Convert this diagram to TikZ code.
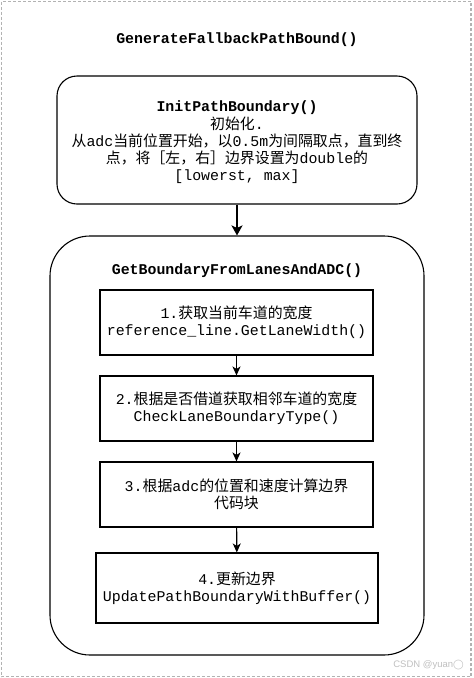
\documentclass[tikz,border=0pt]{standalone}
\usepackage{fontspec}
\setmainfont{Liberation Sans}
\setmonofont{Liberation Mono}
\newfontfamily\zh{Noto Sans CJK SC}
\newfontfamily\wmfont{DejaVu Sans}
\usetikzlibrary{arrows.meta}
\begin{document}
\begin{tikzpicture}[x=1pt,y=-1pt,
  txt/.style={font=\fontsize{14.9}{17}\selectfont\ttfamily, align=center, inner sep=0pt},
  roundbox/.style={draw=black, line width=1.1pt, txt},
  stepbox/.style={draw=black, line width=1.1pt, txt, minimum width=273pt, minimum height=65pt},
  thinarrow/.style={draw=black, line width=1.1pt, -{Stealth[length=9pt,width=8pt,inset=2.5pt]}},
  thickarrow/.style={draw=black, line width=2pt, -{Stealth[length=10pt,width=11pt,inset=2.5pt]}}
]
\useasboundingbox (0,0) rectangle (474,678);
\draw[gray!60, line width=1.6pt, dash pattern=on 3pt off 2pt] (1.5,1.5) rectangle (471,676.5);

\node[txt, font=\fontsize{14.9}{17}\selectfont\ttfamily\bfseries] (title) at (237,40) {GenerateFallbackPathBound()};

\node[roundbox, rounded corners=20pt, minimum width=360pt, minimum height=128pt] (init) at (237,140) {};
\node[txt] (inittext) at (237,142.5)
{\textbf{InitPathBoundary()}\\[1pt]
{\zh 初始化}.\\
{\zh 从}adc{\zh 当前位置开始，以}0.5m{\zh 为间隔取点，直到终}\\
{\zh 点，将［左，右］边界设置为}double{\zh 的}\\
\relax{[}lowerst, max{]}};

\node[roundbox, rounded corners=40pt, minimum width=374pt, minimum height=419pt] (outer) at (237,445.5) {};

\node[txt, font=\fontsize{14.9}{17}\selectfont\ttfamily\bfseries] (gtitle) at (237,271) {GetBoundaryFromLanesAndADC()};

\node[stepbox] (s1) at (236.5,322.5) {1.{\zh 获取当前车道的宽度}\\reference\_line.GetLaneWidth()};
\node[stepbox] (s2) at (236.5,408.5) {2.{\zh 根据是否借道获取相邻车道的宽度}\\CheckLaneBoundaryType()};
\node[stepbox] (s3) at (236.5,494.5) {3.{\zh 根据}adc{\zh 的位置和速度计算边界}\\{\zh 代码块}};
\node[stepbox, minimum width=282pt, minimum height=70pt] (s4) at (237,588) {4.{\zh 更新边界}\\UpdatePathBoundaryWithBuffer()};

\draw[thickarrow] (init.south) -- (outer.north);
\draw[thinarrow] (s1) -- (s2);
\draw[thinarrow] (s2) -- (s3);
\draw[thinarrow] (s3) -- (s4);

\node[font=\fontsize{9.5}{11}\selectfont, text=gray!50, anchor=east, inner sep=0pt] (wm) at (464,665) {CSDN @yuan{\wmfont ◯}};
\end{tikzpicture}
\end{document}
